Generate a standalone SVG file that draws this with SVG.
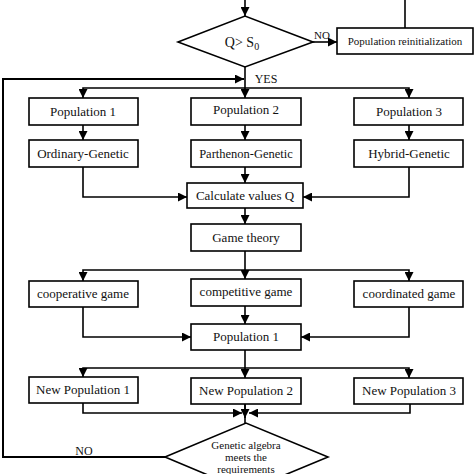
<svg xmlns="http://www.w3.org/2000/svg" width="474" height="474" viewBox="0 0 474 474">
<style>
.box{fill:#fff;stroke:#000;stroke-width:1.6}
.ln{fill:none;stroke:#000;stroke-width:1.6}
text{font-family:"Liberation Serif","Times New Roman",serif;fill:#111;text-anchor:middle}
.t{font-size:13px}
.s{font-size:11px}
</style>
<defs>
<marker id="ah" markerUnits="userSpaceOnUse" markerWidth="9" markerHeight="9" refX="9" refY="4.5" orient="auto">
<path d="M0,0 L9,4.5 L0,9 z" fill="#000"/>
</marker>
</defs>
<rect width="474" height="474" fill="#fff"/>
<g id="connectors">
<path class="ln" d="M245,0 V16" marker-end="url(#ah)"/>
<path class="ln" d="M405,0 V28"/>
<path class="ln" d="M313,42 H337" marker-end="url(#ah)"/>
<path class="ln" d="M245,67 V98" marker-end="url(#ah)"/>
<path class="ln" d="M245,88 H83 V98" marker-end="url(#ah)"/>
<path class="ln" d="M245,88 H409 V98" marker-end="url(#ah)"/>
<path class="ln" d="M83,125 V140" marker-end="url(#ah)"/>
<path class="ln" d="M245,125 V140" marker-end="url(#ah)"/>
<path class="ln" d="M409,125 V140" marker-end="url(#ah)"/>
<path class="ln" d="M83,167 V197 H187" marker-end="url(#ah)"/>
<path class="ln" d="M409,167 V197 H303" marker-end="url(#ah)"/>
<path class="ln" d="M245,167 V183" marker-end="url(#ah)"/>
<path class="ln" d="M245,208 V224" marker-end="url(#ah)"/>
<path class="ln" d="M245,251 V279" marker-end="url(#ah)"/>
<path class="ln" d="M245,270 H83 V281" marker-end="url(#ah)"/>
<path class="ln" d="M245,270 H409 V281" marker-end="url(#ah)"/>
<path class="ln" d="M83,307 V337 H191" marker-end="url(#ah)"/>
<path class="ln" d="M409,307 V337 H301" marker-end="url(#ah)"/>
<path class="ln" d="M245,306 V324" marker-end="url(#ah)"/>
<path class="ln" d="M245,350 V378" marker-end="url(#ah)"/>
<path class="ln" d="M245,368 H83 V377" marker-end="url(#ah)"/>
<path class="ln" d="M245,368 H409 V378" marker-end="url(#ah)"/>
<path class="ln" d="M83,403 V413 H242" marker-end="url(#ah)"/>
<path class="ln" d="M410,404 V413 H249" marker-end="url(#ah)"/>
<path class="ln" d="M245,404 V423"/>
<path class="ln" d="M245,404 V418" marker-end="url(#ah)"/>
<path class="ln" d="M165,457 H3 V79 H244" marker-end="url(#ah)" style="stroke-width:2"/>
<text class="s" x="322" y="39">NO</text>
<text class="s" x="266" y="83" style="font-size:12px">YES</text>
<text class="s" x="84" y="455" style="font-size:12px">NO</text>
</g>
<g id="decision1">
<path class="box" d="M178,42 L245,16 L313,42 L245,67 Z"/>
<text x="242" y="47" style="font-size:14px">Q&gt; S<tspan font-size="10" dy="3">0</tspan></text>
</g>
<g id="reinit">
<rect class="box" x="337" y="28" width="136" height="26"/>
<text class="s" x="405" y="45">Population reinitialization</text>
</g>
<g id="pop1"><rect class="box" x="29" y="98" width="109" height="27"/><text class="t" x="83" y="116">Population 1</text></g>
<g id="pop2"><rect class="box" x="191" y="98" width="110" height="27"/><text class="t" x="246" y="114">Population 2</text></g>
<g id="pop3"><rect class="box" x="354" y="98" width="109" height="27"/><text class="t" x="409" y="116">Population 3</text></g>
<g id="ordinary"><rect class="box" x="29" y="140" width="109" height="27"/><text class="t" x="83" y="158">Ordinary-Genetic</text></g>
<g id="parthenon"><rect class="box" x="191" y="140" width="110" height="27"/><text class="t" x="246" y="158" style="font-size:12.5px">Parthenon-Genetic</text></g>
<g id="hybrid"><rect class="box" x="354" y="140" width="109" height="27"/><text class="t" x="409" y="158">Hybrid-Genetic</text></g>
<g id="calc"><rect class="box" x="187" y="183" width="116" height="25"/><text class="t" x="245" y="200">Calculate values Q</text></g>
<g id="game"><rect class="box" x="191" y="224" width="110" height="27"/><text class="t" x="246" y="242">Game theory</text></g>
<g id="coop"><rect class="box" x="29" y="281" width="109" height="26"/><text class="t" x="83" y="298">cooperative game</text></g>
<g id="comp"><rect class="box" x="191" y="279" width="110" height="27"/><text class="t" x="246" y="296">competitive game</text></g>
<g id="coord"><rect class="box" x="354" y="281" width="109" height="26"/><text class="t" x="409" y="298">coordinated game</text></g>
<g id="popmid"><rect class="box" x="191" y="324" width="110" height="26"/><text class="t" x="246" y="341">Population 1</text></g>
<g id="newpop1"><rect class="box" x="29" y="377" width="109" height="26"/><text class="t" x="83" y="394">New Population 1</text></g>
<g id="newpop2"><rect class="box" x="191" y="378" width="110" height="26"/><text class="t" x="246" y="395">New Population 2</text></g>
<g id="newpop3"><rect class="box" x="354" y="378" width="109" height="26"/><text class="t" x="409" y="395">New Population 3</text></g>
<g id="decision2">
<path class="box" d="M165,457 L246,423 L328,457 L246,491 Z"/>
<text class="s" x="246" y="449">Genetic algebra</text>
<text class="s" x="246" y="461">meets the</text>
<text class="s" x="246" y="473">requirements</text>
</g>
</svg>
